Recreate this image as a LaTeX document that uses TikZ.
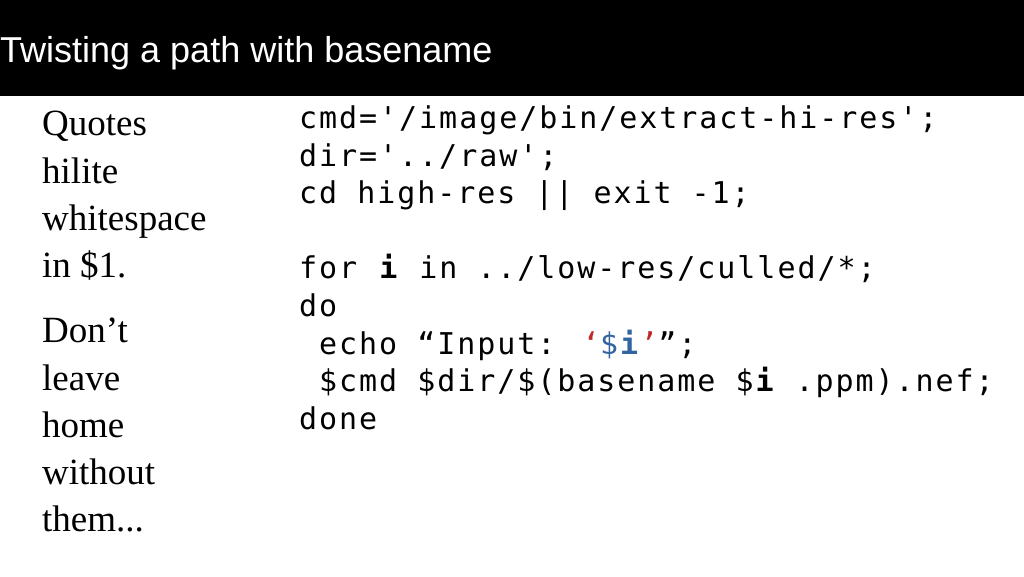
\documentclass[tikz,border=0pt]{standalone}
\usepackage{fontspec}
\setmainfont{Liberation Serif}
\newfontfamily\titlefont{Liberation Sans}
\newfontfamily\codefont[LetterSpace=6.5]{DejaVu Sans Mono}
\definecolor{qred}{RGB}{190,40,40}
\definecolor{vblue}{RGB}{50,100,160}
\begin{document}
\begin{tikzpicture}[x=1pt,y=-1pt,
  code/.style={anchor=base west,inner sep=0,font=\codefont\fontsize{30}{30}\selectfont},
  lft/.style={anchor=base west,inner sep=0,font=\fontsize{37}{37}\selectfont}]
\useasboundingbox (0,0) rectangle (1024,576);
\fill[white] (0,0) rectangle (1024,576);
\fill[black] (0,0) rectangle (1024,96);
\node[anchor=base west,inner sep=0,text=white,font=\titlefont\fontsize{36}{36}\selectfont] (t) at (0,62) {Twisting a path with basename};
\node[lft] (l1) at (42,135) {Quotes};
\node[lft] (l2) at (42,183) {hilite};
\node[lft] (l3) at (42,230) {whitespace};
\node[lft] (l4) at (42,277) {in \$1.};
\node[lft] (l5) at (42,342) {Don’t};
\node[lft] (l6) at (42,390) {leave};
\node[lft] (l7) at (42,437) {home};
\node[lft] (l8) at (42,484) {without};
\node[lft] (l9) at (42,531) {them...};
\node[code] (c1) at (299,128) {cmd='/image/bin/extract-hi-res';};
\node[code] (c2) at (299,166) {dir='../raw';};
\node[code] (c3) at (299,203) {cd high-res || exit -1;};
\node[code] (c4) at (299,278) {for \textbf{i} in ../low-res/culled/*;};
\node[code] (c5) at (299,316) {do};
\node[code] (c6) at (319,354) {echo “Input: \textcolor{qred}{‘}\textcolor{vblue}{\$\textbf{i}}\textcolor{qred}{’}”;};
\node[code] (c7) at (319,391) {\$cmd \$dir/\$(basename \$\textbf{i} .ppm).nef;};
\node[code] (c8) at (299,429) {done};
\end{tikzpicture}
\end{document}
